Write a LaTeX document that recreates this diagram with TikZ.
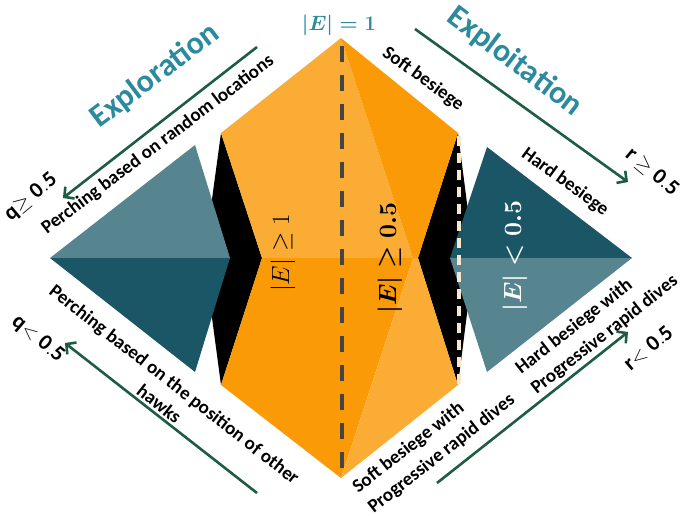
\documentclass[tikz,border=0pt]{standalone}
\usepackage{amsmath}
\usepackage{fontspec}
\setmainfont{Carlito}
\usetikzlibrary{arrows.meta}
\definecolor{tealtxt}{RGB}{44,138,158}
\definecolor{tealL}{RGB}{86,133,144}
\definecolor{tealD}{RGB}{27,86,103}
\definecolor{orL}{RGB}{251,172,52}
\definecolor{orD}{RGB}{249,154,6}
\definecolor{arrgreen}{RGB}{30,92,68}
\definecolor{dashgray}{RGB}{68,68,68}
\definecolor{cream}{RGB}{246,232,204}
\begin{document}
\begin{tikzpicture}[x=1pt,y=-1pt,
  lbl/.style={font=\fontsize{19}{25}\selectfont\bfseries, text=black, inner sep=0pt},
  title/.style={font=\fontsize{32}{36}\selectfont\bfseries, text=tealtxt, inner sep=0pt},
  cond/.style={font=\fontsize{22}{26}\selectfont\bfseries, text=black, inner sep=0pt},
  bigmath/.style={font=\fontsize{29}{32}\selectfont, inner sep=0pt},
  flow/.style={draw=arrgreen, line width=2.6pt, -{Straight Barb[length=7pt,width=15pt,line width=2.6pt]}},
]
\useasboundingbox (0,0) rectangle (685,516);
% black chevrons
\fill[black] (221,133) -- (262,258) -- (221,385) -- (204,258) -- cycle;
\fill[black] (458,133) -- (418,258) -- (458,385) -- (474,258) -- cycle;
% teal kites
\fill[tealL] (50,258) -- (195,145) -- (230,258) -- cycle;
\fill[tealD] (50,258) -- (230,258) -- (195,372) -- cycle;
\fill[tealD] (450,258) -- (487,147) -- (632,258) -- cycle;
\fill[tealL] (450,258) -- (632,258) -- (487,372) -- cycle;
% orange pieces
\fill[orL] (341,38) -- (221,133) -- (262,258) -- (413,258) -- cycle;
\fill[orD] (341,38) -- (413,258) -- (418,258) -- (458,133) -- cycle;
\fill[orD] (262,258) -- (221,385) -- (341,478) -- (413,258) -- cycle;
\fill[orL] (413,258) -- (341,478) -- (458,385) -- (418,258) -- cycle;
% dashed lines
\coordinate (dtop) at (342,46);
\coordinate (dbot) at (342,474);
\draw[dashgray, line width=4pt, dash pattern=on 16pt off 13pt] (dtop) -- (dbot);
\coordinate (ctop) at (459,136);
\coordinate (cbot) at (459,386);
\draw[cream, line width=3.5pt, dash pattern=on 10pt off 7pt] (ctop) -- (cbot);
% arrows
\coordinate (ula) at (257,47);  \coordinate (ulb) at (63,198);
\coordinate (lla) at (257,493); \coordinate (llb) at (65,343);
\coordinate (ura) at (415,29);  \coordinate (urb) at (628,182);
\coordinate (lra) at (437,483); \coordinate (lrb) at (628,332);
\draw[flow] (ula) -- (ulb);
\draw[flow] (lla) -- (llb);
\draw[flow] (ura) -- (urb);
\draw[flow] (lra) -- (lrb);
% titles
\node[title, rotate=37] (explor) at (155,76) {Exploration};
\node[title, rotate=-37] (exploit) at (515,62) {Exploitation};
\node[font=\fontsize{21}{24}\selectfont, text=tealtxt, inner sep=0pt] (e1) at (339,25) {$\boldsymbol{|E| = 1}$};
% labels
\node[lbl, rotate=37] (perch1) at (158,145) {Perching based on random locations};
\node[lbl, align=center, rotate=-38] (perch2) at (167,394) {Perching based on the position of other\\hawks};
\node[lbl, rotate=-36] (soft) at (423,79) {Soft besiege};
\node[lbl, rotate=-36] (hard) at (565,182) {Hard besiege};
\node[lbl, align=left, rotate=38] (hardp) at (597,325) {Hard besiege with\\Progressive rapid dives};
\node[lbl, align=left, rotate=38] (softp) at (434,444) {Soft besiege with\\Progressive rapid dives};
% conditions
\node[cond, rotate=40] (q1) at (31,197) {q$\geq \mathbf{0.5}$};
\node[cond, rotate=-40] (q2) at (38,339) {q$< \mathbf{0.5}$};
\node[cond, rotate=-40] (r1) at (652,172) {r $\geq \mathbf{0.5}$};
\node[cond, rotate=40] (r2) at (648,348) {r$< \mathbf{0.5}$};
% E labels
\node[bigmath, rotate=90] (ea) at (283,253) {$|E| \geq 1$};
\node[bigmath, rotate=90] (eb) at (390,258) {$\boldsymbol{|E| \geq 0.5}$};
\node[bigmath, rotate=90, text=white] (ec) at (515,256) {$\boldsymbol{|E| < 0.5}$};
\end{tikzpicture}
\end{document}
